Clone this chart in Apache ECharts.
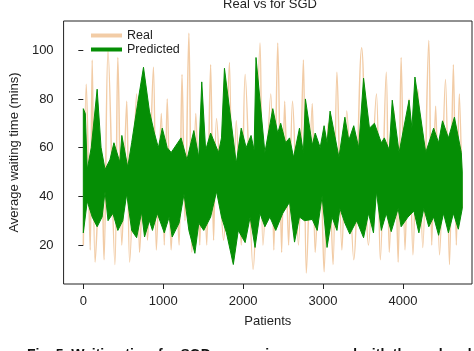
<!DOCTYPE html>
<html>
<head>
<meta charset="utf-8">
<script src="https://cdn.jsdelivr.net/npm/echarts@6/dist/echarts.min.js"></script>
<style>
  html, body { margin: 0; padding: 0; background: #fff; }
  #chart { width: 474px; height: 351px; }
</style>
</head>
<body>
<div id="chart"></div>
<script>
var titleText = 'Real vs for SGD';
var captionText = 'Fig. 5. Waiting time for SGD regression compared with the real and predicted values';
var xTicks = [0, 1000, 2000, 3000, 4000];
var yTicks = [20, 40, 60, 80, 100];

// [patient, minutes]
var realData = [
  [0,20],[37,86],[86,18],[111,96],[148,13],[222,60],[259,14],[309,100],[395,12],[432,97],
  [482,20],[543,79],[580,13],[667,82],[704,17],[766,60],[803,22],[877,93],[914,18],[976,74],
  [1013,20],[1050,80],[1099,18],[1149,60],[1198,20],[1235,90],[1272,30],[1321,107],[1359,17],[1408,74],
  [1457,20],[1494,76],[1544,20],[1593,94],[1630,22],[1667,72],[1754,22],[1828,95],[1865,13],[1914,71],
  [1976,20],[2025,90],[2124,10],[2211,103],[2248,20],[2346,82],[2384,18],[2433,103],[2482,17],[2520,79],
  [2569,20],[2618,79],[2692,20],[2754,96],[2791,8.5],[2865,78],[2902,17],[2964,60],[3013,9],[3063,70],
  [3125,12],[3174,91],[3236,18],[3297,75],[3384,14],[3483,101],[3569,20],[3668,82],[3717,14],[3791,91],
  [3829,17],[3890,75],[3940,13],[3977,97],[4026,18],[4076,80],[4125,16],[4187,84],[4248,19],[4323,104],
  [4360,20],[4409,77],[4458,16],[4532,88],[4582,12],[4631,94],[4668,20],[4705,82],[4742,35]
];

// upper and lower edge of the dense predicted trace
var predUpper = [
  [0,76],[25,74],[49,51],[99,60],[173,84],[222,60],[272,51],[333,55],[383,62],[457,54],
  [482,65],[556,52],[605,62],[679,78],[753,93],[827,75],[889,66],[939,60],[988,68],[1050,60],
  [1099,58],[1223,64],[1297,55],[1383,67],[1445,56],[1482,87],[1531,59],[1593,66],[1692,58],[1729,64],
  [1766,92.6],[1914,53.6],[1976,68],[2038,60],[2099,65],[2137,59],[2161,97],[2272,58],[2371,76],[2433,66],
  [2470,70],[2532,62],[2581,64],[2631,56],[2705,68],[2754,58],[2779,80],[2865,61],[2902,66],[2964,60],
  [3013,69],[3050,62],[3088,75],[3199,56],[3273,72.5],[3322,63],[3384,69],[3446,60],[3507,88.5],[3581,68],
  [3643,70],[3729,62],[3767,64],[3829,59],[3866,79.5],[3952,58],[4076,79.5],[4112,68],[4150,89],[4285,58],
  [4384,68],[4446,62],[4495,71],[4569,64],[4644,72.5],[4730,58],[4742,50]
];
var predLower = [
  [0,25],[49,38],[111,31.5],[173,27.5],[235,31.5],[272,42],[309,30],[370,33],[432,26],[494,30],
  [543,41],[605,26],[667,23],[729,33.5],[766,23.3],[827,30],[865,26],[926,33],[1013,25],[1074,31.5],
  [1112,23.3],[1198,29],[1260,41],[1321,26],[1396,16.6],[1445,29],[1507,26],[1593,31.5],[1667,42],[1729,31.5],
  [1791,25],[1877,12],[1939,26],[2025,21],[2087,31.5],[2149,19],[2211,33],[2272,27.5],[2334,31.5],[2408,26],
  [2495,33],[2581,37.6],[2643,21.2],[2705,31.5],[2767,30],[2865,30.5],[2927,26],[2988,40],[3050,19],[3112,31.5],
  [3174,26],[3211,35],[3273,29],[3335,24.5],[3421,30],[3507,23],[3569,33],[3631,25],[3668,42],[3729,26],
  [3791,33],[3853,25.5],[3940,35],[3977,27.5],[4063,31.5],[4137,34],[4199,25],[4261,35],[4323,27.5],[4384,31.5],
  [4446,24],[4508,33],[4569,25],[4631,33],[4693,26.5],[4742,35]
];

var realColor = '#f2cca6';
var predColor = '#058e05';
var font = 'Liberation Sans, Arial, sans-serif';

var myChart = echarts.init(document.getElementById('chart'));
var option = {
  animation: false,
  title: {
    text: titleText,
    left: 265,
    textAlign: 'center',
    top: -7,
    textStyle: { fontSize: 13, fontWeight: 'normal', color: '#222', fontFamily: font }
  },
  graphic: [{
    type: 'text',
    left: 27,
    top: 348,
    style: { text: captionText, fontSize: 14, fontWeight: 'bold', fill: '#111', fontFamily: font }
  }],
  legend: {
    orient: 'vertical',
    left: 86,
    top: 24,
    itemWidth: 31,
    itemHeight: 4,
    itemGap: 1,
    textStyle: { fontSize: 12.5, color: '#222', fontFamily: font },
    data: [
      { name: 'Real', icon: 'rect', itemStyle: { color: realColor } },
      { name: 'Predicted', icon: 'rect', itemStyle: { color: predColor } }
    ]
  },
  grid: {
    left: 58, right: 2, top: 21, bottom: 67,
    show: true, borderColor: '#222', borderWidth: 1
  },
  xAxis: {
    type: 'value',
    min: -247, max: 4864,
    name: 'Patients',
    nameLocation: 'middle',
    nameGap: 31,
    nameTextStyle: { fontSize: 13, color: '#222', fontFamily: font },
    axisLine: { show: false },
    axisTick: { show: true, length: 5, customValues: xTicks, lineStyle: { color: '#222' } },
    axisLabel: {
      customValues: xTicks, margin: 11, fontSize: 13, color: '#222', fontFamily: font,
      formatter: function (v) { return String(v); }
    },
    splitLine: { show: false }
  },
  yAxis: {
    type: 'value',
    min: 4, max: 112,
    name: 'Average waiting time (mins)',
    nameLocation: 'middle',
    nameGap: 41,
    nameTextStyle: { fontSize: 13, color: '#222', fontFamily: font },
    axisLine: { show: false },
    axisTick: { show: true, length: 5, customValues: yTicks, lineStyle: { color: '#222' } },
    axisLabel: { customValues: yTicks, margin: 10, fontSize: 13, color: '#222', fontFamily: font },
    splitLine: { show: false }
  },
  series: [
    {
      name: 'Real',
      type: 'line',
      data: realData,
      smooth: 0.35,
      symbol: 'none',
      lineStyle: { color: realColor, width: 1.5 },
      itemStyle: { color: realColor },
      z: 2
    },
    {
      name: 'Predicted',
      type: 'custom',
      data: predUpper,
      itemStyle: { color: predColor },
      z: 3,
      renderItem: function (params, api) {
        if (params.dataIndex !== 0) return null;
        var pts = predUpper.map(function (p) { return api.coord(p); });
        var low = predLower.slice().reverse().map(function (p) { return api.coord(p); });
        return {
          type: 'polygon',
          shape: { points: pts.concat(low) },
          style: { fill: predColor, stroke: predColor, lineWidth: 1 }
        };
      }
    }
  ]
};
myChart.setOption(option);
</script>
</body>
</html>
